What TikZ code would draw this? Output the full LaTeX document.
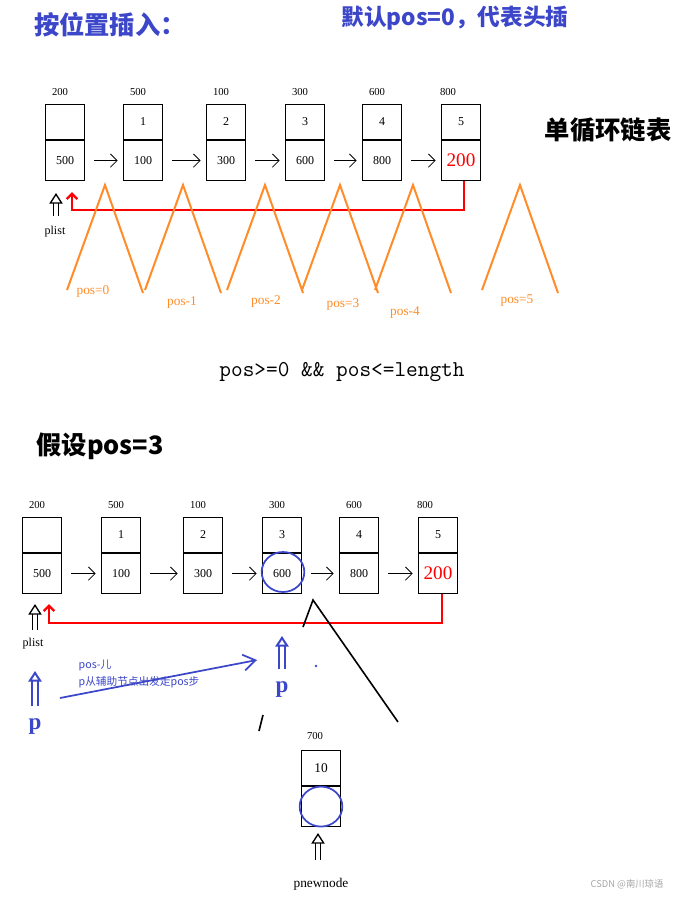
\documentclass[tikz,border=0pt]{standalone}
\usepackage{fontspec}
\setmainfont{Liberation Serif}
\newfontfamily\cjk{Noto Sans CJK SC}
\usetikzlibrary{arrows.meta,shapes.geometric}
\definecolor{tb}{RGB}{60,70,200}
\definecolor{orng}{RGB}{255,140,40}
\begin{document}
\begin{tikzpicture}[x=0.75pt,y=-0.75pt,
 box/.style={draw,thick,minimum width=29.25pt,minimum height=26.25pt,inner sep=0,font=\small},
 lbl/.style={font=\footnotesize},
 nxt/.style={-{Straight Barb[length=5pt]},semithick},
 red/.style={draw=red,line width=1.8pt},
 orl/.style={draw=orng,line width=1.5pt},
 hol/.style={line width=1pt,-{Triangle[open,length=8pt,width=10pt]},double distance=3pt},
 ttl/.style={font=\cjk\bfseries\fontsize{19}{22}\selectfont,text=tb}]
\useasboundingbox (0,0) rectangle (685,897);
\node[ttl] (t1) at (110,25) {按位置插入：};
\node[ttl,font=\cjk\bfseries\fontsize{17}{20}\selectfont] (t2) at (455,18) {默认pos=0，代表头插};
\node[font=\cjk\bfseries\fontsize{19}{22}\selectfont] (t3) at (608,130) {单循环链表};
% top list
\foreach \i/\x/\a/\d/\v in {0/65/200//500,1/143/500/1/100,2/226/100/2/300,3/305/300/3/600,4/382/600/4/800}{
 \node[box] (ta\i) at (\x,122) {\d};
 \node[box,anchor=north,minimum height=30pt] (tb\i) at (ta\i.south) {\v};
 \node[lbl] (tl\i) at (\x-5,92) {\a};}
\node[box] (ta5) at (461,122) {5};
\node[box,anchor=north,minimum height=30pt,text=red,font=\Large] (tb5) at (ta5.south) {200};
\node[lbl] (tl5) at (448,92) {800};
\foreach \i/\j in {0/1,1/2,2/3,3/4,4/5}{\draw[nxt] ([xshift=7pt]tb\i.east) -- ([xshift=-4pt]tb\j.west);}
\coordinate (tr1) at (464,210); \coordinate (tr2) at (72,210); \coordinate (tr3) at (72,192);
\draw[red,-{Straight Barb[length=4pt]}] (tb5.south -| tr1) -- (tr1) -- (tr2) -- (tr3);
\coordinate (tp0) at (56,216); \coordinate (tp1) at (56,193);
\draw[hol] (tp0) -- (tp1);
\node[font=\small] (tpl) at (55,232) {plist};
\foreach \k/\x/\l/\lx/\ly in {0/105/pos=0/93/291,1/183/pos-1/182/303,2/265/pos-2/266/301,3/340/pos=3/343/304,4/413/pos-4/405/313,5/520/pos=5/517/301}{
 \coordinate (ap\k) at (\x,185);
 \coordinate (al\k) at (\x-38,290);
 \coordinate (ar\k) at (\x+38,293);
 \draw[orl] (al\k) -- (ap\k) -- (ar\k);
 \node[text=orng] (pl\k) at (\lx,\ly) {\l};}
\node[font=\ttfamily\fontsize{17}{20}\selectfont] (cond) at (342,372) {pos>=0 \&\& pos<=length};
\node[font=\cjk\bfseries\fontsize{19}{22}\selectfont] (as) at (100,446) {假设pos=3};
% bottom list
\foreach \i/\x/\a/\d/\v in {0/42/200//500,1/121/500/1/100,2/203/100/2/300,3/282/300/3/600,4/359/600/4/800}{
 \node[box] (ba\i) at (\x,535) {\d};
 \node[box,anchor=north,minimum height=30pt] (bb\i) at (ba\i.south) {\v};
 \node[lbl] (bl\i) at (\x-5,505) {\a};}
\node[box] (ba5) at (438,535) {5};
\node[box,anchor=north,minimum height=30pt,text=red,font=\Large] (bb5) at (ba5.south) {200};
\node[lbl] (bl5) at (425,505) {800};
\foreach \i/\j in {0/1,1/2,2/3,3/4,4/5}{\draw[nxt] ([xshift=7pt]bb\i.east) -- ([xshift=-4pt]bb\j.west);}
\node[draw=tb,line width=1.3pt,ellipse,minimum width=32pt,minimum height=30pt] (c1) at (283,572) {};
\coordinate (br1) at (442,623); \coordinate (br2) at (49,623); \coordinate (br3) at (49,604);
\draw[red,-{Straight Barb[length=4pt]}] (bb5.south -| br1) -- (br1) -- (br2) -- (br3);
\coordinate (bp0) at (35,630); \coordinate (bp1) at (35,604);
\draw[hol] (bp0) -- (bp1);
\node[font=\small] (bpl) at (33,644) {plist};
\coordinate (q0) at (282,669); \coordinate (q1) at (282,636);
\draw[hol,draw=tb,line width=1.5pt] (q0) -- (q1);
\node[text=tb,font=\LARGE\bfseries] (qp) at (282,690) {p};
\coordinate (r0) at (35,706); \coordinate (r1) at (35,671);
\draw[hol,draw=tb,line width=1.5pt] (r0) -- (r1);
\node[text=tb,font=\LARGE\bfseries] (rp) at (35,727) {p};
\coordinate (s0) at (60,698); \coordinate (s1) at (257,660);
\draw[draw=tb,line width=1.3pt,-{Straight Barb[length=9pt,width=12pt]}] (s0) -- (s1);
\node[text=tb,font=\cjk\footnotesize,anchor=west] (st1) at (74,665) {pos-儿};
\node[text=tb,font=\cjk\footnotesize,anchor=west] (st2) at (74,682) {p从辅助节点出发走pos步};
\coordinate (k0) at (313,600); \coordinate (k1) at (398,722); \coordinate (k2) at (303,627);
\draw[line width=1.2pt] (k2) -- (k0) -- (k1);
\coordinate (m0) at (263,715); \coordinate (m1) at (259,731);
\draw[line width=1.2pt] (m0) -- (m1);
\fill[tb] (316,666) circle (1pt);
\node[box,font=\normalsize] (na) at (321,768) {10};
\node[box,anchor=north,minimum height=30pt] (nb) at (na.south) {};
\node[lbl] (nl) at (315,736) {700};
\node[draw=tb,line width=1.3pt,ellipse,minimum width=32pt,minimum height=30pt] (c2) at (nb.center) {};
\coordinate (u0) at (318,860); \coordinate (u1) at (318,833);
\draw[hol] (u0) -- (u1);
\node (pn) at (321,884) {pnewnode};
\node[text=gray!70,font=\cjk\scriptsize] (wm) at (627,884) {CSDN @南川琼语};
\end{tikzpicture}
\end{document}
